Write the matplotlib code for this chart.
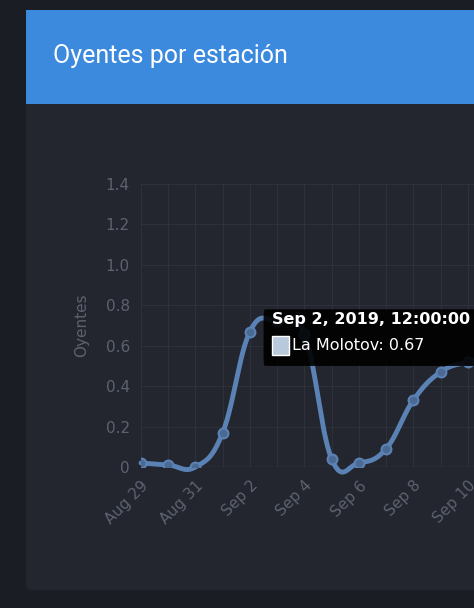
import numpy as np
import matplotlib
matplotlib.use("Agg")
import matplotlib.pyplot as plt
from matplotlib.patches import FancyBboxPatch, Rectangle

# data
days = list(range(14))  # Aug 29 .. Sep 11
values = [0.02, 0.01, 0.0, 0.17, 0.67, 0.72, 0.66, 0.04, 0.02, 0.09, 0.33, 0.47, 0.52, 0.55]
tick_pos = [0, 2, 4, 6, 8, 10, 12]
tick_labels = ["Aug 29", "Aug 31", "Sep 2", "Sep 4", "Sep 6", "Sep 8", "Sep 10"]
y_ticks = [0, 0.2, 0.4, 0.6, 0.8, 1.0, 1.2, 1.4]
y_labels = ["0", "0.2", "0.4", "0.6", "0.8", "1.0", "1.2", "1.4"]

LINE = "#5b82b5"
TXT = "#5d6270"


def smooth(x, y, tension=0.4, n=30):
    x = np.asarray(x, float)
    y = np.asarray(y, float)
    xs, ys = [], []
    for i in range(len(x) - 1):
        p0 = i - 1 if i > 0 else i
        p3 = i + 2 if i + 2 < len(x) else i + 1
        c1x = x[i] + (x[i + 1] - x[p0]) * tension / 2
        c1y = y[i] + (y[i + 1] - y[p0]) * tension / 2
        c2x = x[i + 1] - (x[p3] - x[i]) * tension / 2
        c2y = y[i + 1] - (y[p3] - y[i]) * tension / 2
        t = np.linspace(0, 1, n)
        b = [(1 - t) ** 3, 3 * (1 - t) ** 2 * t, 3 * (1 - t) * t ** 2, t ** 3]
        xs.append(b[0] * x[i] + b[1] * c1x + b[2] * c2x + b[3] * x[i + 1])
        ys.append(b[0] * y[i] + b[1] * c1y + b[2] * c2y + b[3] * y[i + 1])
    return np.concatenate(xs), np.concatenate(ys)


fig = plt.figure(figsize=(4.74, 6.08), dpi=100)
fig.patch.set_facecolor("#1b1d24")

# card and header
fig.patches.append(FancyBboxPatch((26 / 474, 18 / 608), 0.98, 580 / 608, boxstyle="round,pad=0,rounding_size=0.01",
                                  transform=fig.transFigure, facecolor="#23262f", edgecolor="none", zorder=0))
fig.patches.append(Rectangle((26 / 474, 1 - 104 / 608), 0.98, 94 / 608, transform=fig.transFigure,
                             facecolor="#3c8ade", edgecolor="none", zorder=1))
fig.text(53 / 474, 1 - 56 / 608, "Oyentes por estación", color="white", fontsize=18,
         va="center", ha="left", family="Roboto")

ax = fig.add_axes([141 / 474, 1 - 467 / 608, 354 / 474, 283 / 608])
ax.set_zorder(3)
ax.set_facecolor("none")
ax.set_xlim(0, 13)
ax.set_ylim(0, 1.4)
for s in ax.spines.values():
    s.set_visible(False)
ax.set_xticks(tick_pos)
ax.set_xticks(days, minor=True)
ax.set_xticklabels(tick_labels, rotation=45, ha="right", rotation_mode="anchor", color=TXT, fontsize=11)
ax.set_yticks(y_ticks)
ax.set_yticklabels(y_labels, color=TXT, fontsize=11)
ax.tick_params(length=0, pad=8, which="both")
ax.grid(True, which="both", color="#2e313b", linewidth=0.8)
ax.axhline(0, color="#3a3d47", linewidth=1)
ax.set_ylabel("Oyentes", color=TXT, fontsize=11, labelpad=12)

sx, sy = smooth(days, values)
ax.plot(sx, sy, color=LINE, linewidth=3.5, solid_capstyle="round", clip_on=False)
ax.scatter(days, values, s=50, facecolor="#4a6a94", edgecolor=LINE, linewidth=1.5, zorder=3)

# tooltip
ax.add_patch(FancyBboxPatch((4.5, 0.5), 9, 0.28, boxstyle="round,pad=0,rounding_size=0.05",
                            facecolor="black", edgecolor="none", alpha=0.9, zorder=5, clip_on=False))
ax.text(4.8, 0.73, "Sep 2, 2019, 12:00:00 a. m.", color="white", fontsize=11.5, fontweight="bold",
        va="center", zorder=6, clip_on=True)
ax.add_patch(Rectangle((4.8, 0.555), 0.65, 0.095, facecolor="#b9c9dc", edgecolor="white", linewidth=1, zorder=6))
ax.text(5.55, 0.6, "La Molotov: 0.67", color="white", fontsize=11.5, va="center", zorder=6)

fig.savefig("out.png", dpi=100, facecolor=fig.get_facecolor())
